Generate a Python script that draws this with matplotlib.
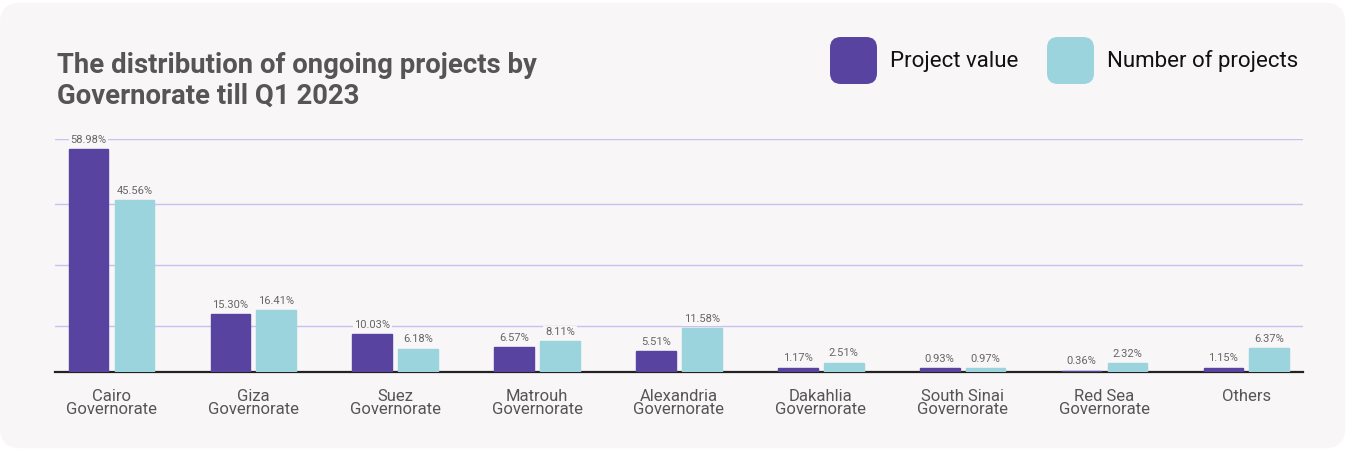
import numpy as np
import matplotlib.pyplot as plt
from matplotlib.patches import FancyBboxPatch

# data
categories = ["Cairo\nGovernorate", "Giza\nGovernorate", "Suez\nGovernorate",
              "Matrouh\nGovernorate", "Alexandria\nGovernorate", "Dakahlia\nGovernorate",
              "South Sinai\nGovernorate", "Red Sea\nGovernorate", "Others"]
project_value = [58.98, 15.30, 10.03, 6.57, 5.51, 1.17, 0.93, 0.36, 1.15]
num_projects = [45.56, 16.41, 6.18, 8.11, 11.58, 2.51, 0.97, 2.32, 6.37]
grid_levels = [12.2, 28.3, 44.4, 61.6]

purple = "#5844a0"
teal = "#9bd4dc"
card = "#f8f6f7"
font = "Roboto"

fig = plt.figure(figsize=(13.56, 4.5), dpi=100)
fig.patch.set_facecolor("white")
# rounded card behind everything
fig.patches.append(FancyBboxPatch((0.0, 0.004), 0.992, 0.99,
                                  boxstyle="round,pad=0,rounding_size=0.015",
                                  transform=fig.transFigure, facecolor=card,
                                  edgecolor="none", zorder=-10, mutation_aspect=3.0))

ax = fig.add_axes([0.0406, 0.1733, 0.9204, 0.5178])
ax.set_facecolor("none")
x = np.arange(len(categories))
w = 0.28
off = 0.162
b1 = ax.bar(x - off, project_value, w, color=purple, edgecolor=purple, lw=1.0, zorder=3)
b2 = ax.bar(x + off, num_projects, w, color=teal, edgecolor=teal, lw=1.0, zorder=3)

for g in grid_levels:
    ax.axhline(g, color="#c9c1f2", lw=1, zorder=1)

for bars, vals in [(b1, project_value), (b2, num_projects)]:
    for r, v in zip(bars, vals):
        ax.annotate(f"{v:.2f}%", (r.get_x() + r.get_width() / 2, v),
                    xytext=(0, 3), textcoords="offset points", ha="center", va="bottom",
                    fontsize=8, color="#666666", family=font, zorder=4,
                    bbox=dict(boxstyle="square,pad=0.15", fc=card, ec="none"))

ax.set_xlim(-0.398, 8.40)
ax.set_ylim(0, 61.6)
ax.set_yticks([])
ax.set_xticks(x)
ax.set_xticklabels(categories, fontsize=12, color="#555555", family=font, linespacing=0.9)
ax.tick_params(axis="x", length=0, pad=12)
for s in ["top", "right", "left"]:
    ax.spines[s].set_visible(False)
ax.spines["bottom"].set_color("#222222")
ax.spines["bottom"].set_linewidth(1.6)
ax.spines["bottom"].set_zorder(2)

# title
fig.text(57 / 1356, 1 - 104 / 450, "The distribution of ongoing projects by\nGovernorate till Q1 2023",
         fontsize=19.8, fontweight="bold", color="#555555", family=font,
         va="baseline", linespacing=1.2)

# legend boxes
for x0, col, lab in [(830, purple, "Project value"), (1047, teal, "Number of projects")]:
    fig.patches.append(FancyBboxPatch((x0 / 1356, 1 - 84 / 450), 47 / 1356, 47 / 450,
                                      boxstyle="round,pad=0,rounding_size=0.008",
                                      mutation_aspect=3.0, transform=fig.transFigure,
                                      facecolor=col, edgecolor="none"))
    fig.text((x0 + 60) / 1356, 1 - 61 / 450, lab, fontsize=16, color="#111111",
             family=font, va="center")

fig.savefig("out.png", dpi=100, facecolor=fig.get_facecolor())
